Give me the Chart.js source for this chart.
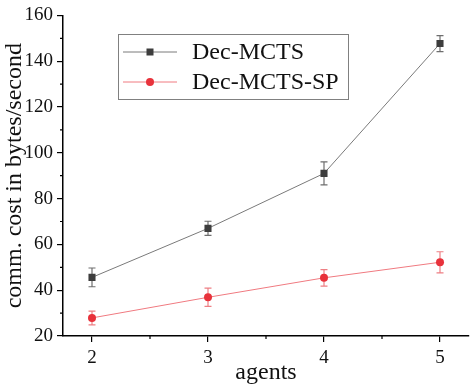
<!DOCTYPE html>
<html>
<head>
<meta charset="utf-8">
<script src="https://cdn.jsdelivr.net/npm/chart.js@4/dist/chart.umd.min.js"></script>
<style>
html,body{margin:0;padding:0;background:#fff;}
#wrap{width:474px;height:387px;position:relative;}
</style>
</head>
<body>
<div id="wrap"><canvas id="c"></canvas></div>
<script>
const agents = [2, 3, 4, 5];
const decMcts = [45.6, 67.0, 91.0, 147.7];
const decMctsErr = [4.1, 3.1, 5.0, 3.5];
const decMctsSp = [27.9, 36.9, 45.4, 52.2];
const decMctsSpErr = [3.0, 4.0, 3.6, 4.6];
const xTicks = [2, 3, 4, 5];
const xMinorTicks = [2.5, 3.5, 4.5];
const yTicks = [20, 40, 60, 80, 100, 120, 140, 160];
const yMinorTicks = [30, 50, 70, 90, 110, 130, 150];
const seriesNames = ['Dec-MCTS', 'Dec-MCTS-SP'];
const errs = [decMctsErr, decMctsSpErr];
const errColors = ['#6e6e6e', '#ee7f84'];

const FONT = "'Liberation Serif', 'Times New Roman', serif";

const errorBars = {
  id: 'errorBars',
  beforeDatasetsDraw(chart) {
    const ctx = chart.ctx, y = chart.scales.y;
    chart.data.datasets.forEach((ds, i) => {
      const meta = chart.getDatasetMeta(i);
      ctx.save();
      ctx.strokeStyle = errColors[i];
      ctx.lineWidth = 1.2;
      meta.data.forEach((pt, j) => {
        const v = ds.data[j].y, e = errs[i][j];
        const top = y.getPixelForValue(v + e), bot = y.getPixelForValue(v - e);
        ctx.beginPath();
        ctx.moveTo(pt.x, top); ctx.lineTo(pt.x, bot);
        ctx.moveTo(pt.x - 3.5, top); ctx.lineTo(pt.x + 3.5, top);
        ctx.moveTo(pt.x - 3.5, bot); ctx.lineTo(pt.x + 3.5, bot);
        ctx.stroke();
      });
      ctx.restore();
    });
  }
};

const extras = {
  id: 'extras',
  afterDraw(chart) {
    const ctx = chart.ctx, xs = chart.scales.x, ys = chart.scales.y;
    const a = chart.chartArea;
    ctx.save();
    ctx.strokeStyle = '#000';
    ctx.lineWidth = 1.2;
    ctx.beginPath();
    yMinorTicks.forEach(v => { const p = ys.getPixelForValue(v); ctx.moveTo(a.left - 3, p); ctx.lineTo(a.left, p); });
    xMinorTicks.forEach(v => { const p = xs.getPixelForValue(v); ctx.moveTo(p, a.bottom); ctx.lineTo(p, a.bottom + 3); });
    ctx.stroke();
    // legend
    const bx = 118, by = 34, bw = 230, bh = 65;
    ctx.fillStyle = '#fff';
    ctx.fillRect(bx, by, bw, bh);
    ctx.strokeStyle = '#808080';
    ctx.lineWidth = 1;
    ctx.strokeRect(bx + 0.5, by + 0.5, bw, bh);
    const rows = [52, 82];
    chart.data.datasets.forEach((ds, i) => {
      const ly = rows[i];
      ctx.strokeStyle = ds.borderColor;
      ctx.lineWidth = 1;
      ctx.beginPath(); ctx.moveTo(123, ly); ctx.lineTo(177, ly); ctx.stroke();
      ctx.fillStyle = ds.pointBackgroundColor;
      if (i === 0) { ctx.fillRect(146.5, ly - 3.5, 7, 7); }
      else { ctx.beginPath(); ctx.arc(150, ly, 4, 0, Math.PI * 2); ctx.fill(); }
      ctx.fillStyle = '#111';
      ctx.font = '24px ' + FONT;
      ctx.textBaseline = 'middle';
      ctx.textAlign = 'left';
      ctx.fillText(seriesNames[i], 192, ly + 1);
    });
    ctx.restore();
  }
};

new Chart(document.getElementById('c'), {
  type: 'line',
  data: {
    datasets: [
      {
        label: seriesNames[0],
        data: agents.map((a, i) => ({ x: a, y: decMcts[i] })),
        borderColor: '#7a7a7a', borderWidth: 1,
        pointStyle: 'rect', pointRadius: 5,
        pointBackgroundColor: '#3d3d3d', pointBorderColor: '#3d3d3d', pointBorderWidth: 0
      },
      {
        label: seriesNames[1],
        data: agents.map((a, i) => ({ x: a, y: decMctsSp[i] })),
        borderColor: '#f07a80', borderWidth: 1,
        pointStyle: 'circle', pointRadius: 4,
        pointBackgroundColor: '#e8323b', pointBorderColor: '#e8323b', pointBorderWidth: 0
      }
    ]
  },
  options: {
    responsive: true, maintainAspectRatio: false, animation: false,
    layout: { padding: { left: 0, right: 4, top: 13, bottom: 0 } },
    plugins: { legend: { display: false }, tooltip: { enabled: false } },
    scales: {
      x: {
        type: 'linear', min: 1.75, max: 5.25,
        afterBuildTicks: s => { s.ticks = xTicks.map(v => ({ value: v })); },
        afterFit: s => { s.height = 51; },
        grid: { drawOnChartArea: false, drawTicks: true, tickLength: 6, color: '#000', lineWidth: 1.2 },
        border: { display: true, color: '#000', width: 1.5 },
        ticks: { color: '#111', font: { family: FONT, size: 19 }, padding: 5, maxRotation: 0 },
        title: { display: true, text: 'agents', color: '#111', font: { family: FONT, size: 24 }, padding: { top: 0, bottom: 0 } }
      },
      y: {
        min: 20, max: 160,
        afterBuildTicks: s => { s.ticks = yTicks.map(v => ({ value: v })); },
        afterFit: s => { s.width = 63; },
        grid: { drawOnChartArea: false, drawTicks: true, tickLength: 6, color: '#000', lineWidth: 1.2 },
        border: { display: true, color: '#000', width: 1.5 },
        ticks: { color: '#111', font: { family: FONT, size: 19 }, padding: 4 },
        title: { display: true, text: 'comm. cost in bytes/second', color: '#111', font: { family: FONT, size: 24 }, padding: { top: 0, bottom: 0 } }
      }
    }
  },
  plugins: [errorBars, extras]
});
</script>
</body>
</html>
